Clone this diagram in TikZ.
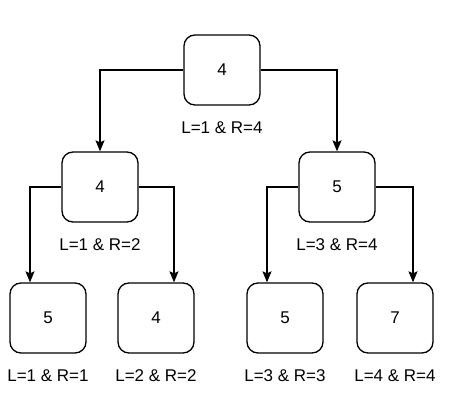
\documentclass[tikz,border=0pt]{standalone}
\usepackage{fontspec}
\setmainfont{Liberation Sans}
\usetikzlibrary{arrows.meta, positioning}

\begin{document}
\begin{tikzpicture}[x=1pt, y=-1pt, every node/.style={font=\fontsize{17}{20}\selectfont},
    seg/.style={draw, line width=1.3pt, rounded corners=11pt, minimum width=76pt, minimum height=70pt, inner sep=0pt},
    rng/.style={inner sep=0pt},
    edge/.style={line width=1.3pt, -{Stealth[length=11pt, width=9pt, inset=2pt]}}]
            \useasboundingbox (0,0) rectangle (450,409);
            \node[seg] (root) at (222,70) {4};
            \node[seg] (lc) at (100,187) {4};
            \node[seg] (rc) at (337,187) {5};
            \node[seg] (ll) at (48,318) {5};
            \node[seg] (lr) at (156,318) {4};
            \node[seg] (rl) at (285,318) {5};
            \node[seg] (rr) at (395,318) {7};
            \node[rng, below=16pt of root] (rootlbl) {L=1 \& R=4};
            \node[rng, below=16pt of lc] (lclbl) {L=1 \& R=2};
            \node[rng, below=16pt of rc] (rclbl) {L=3 \& R=4};
            \node[rng, below=16pt of ll] (lllbl) {L=1 \& R=1};
            \node[rng, below=16pt of lr] (lrlbl) {L=2 \& R=2};
            \node[rng, below=16pt of rl] (rllbl) {L=3 \& R=3};
            \node[rng, below=16pt of rr] (rrlbl) {L=4 \& R=4};
            \draw[edge] (root.west) -| (lc.north);
            \draw[edge] (root.east) -| (rc.north);
            \draw[edge] (lc.west) -| ([xshift=-18pt]ll.north);
            \draw[edge] (lc.east) -| ([xshift=18pt]lr.north);
            \draw[edge] (rc.west) -| ([xshift=-18pt]rl.north);
            \draw[edge] (rc.east) -| ([xshift=18pt]rr.north);
        \end{tikzpicture}
\end{document}
